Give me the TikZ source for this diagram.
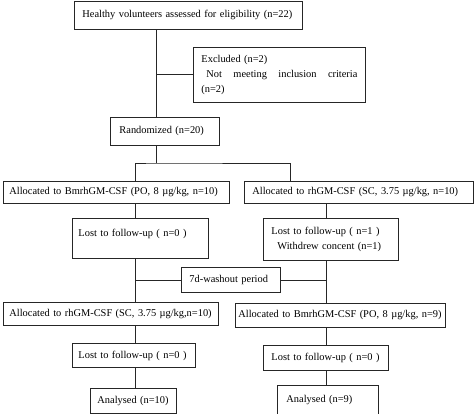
\documentclass[tikz,border=0pt]{standalone}
\usepackage{fontspec}
\setmainfont{Liberation Serif}
\usepackage{tikz}

\begin{document}
\begin{tikzpicture}[x=1pt, y=-1pt,
  stage/.style={draw=black!85, line width=0.9pt, anchor=north west, align=left, inner ysep=0pt, font=\fontsize{10.4}{15}\selectfont},
  link/.style={draw=black!85, line width=0.9pt}]

\useasboundingbox ( 0, 0 ) rectangle ( 474, 414 );

% Enrolment
\node [stage, inner xsep=8pt, text width=212pt, minimum height=28pt] (screen) at ( 74, 1 ) {Healthy volunteers assessed for eligibility (n=22)};
\node [stage, inner xsep=8pt, text width=156pt, minimum height=55pt] (excl) at ( 193, 47 ) {Excluded (n=2)\\\hspace*{5pt}Not\hfill meeting\hfill inclusion\hfill criteria\\(n=2)};
\node [stage, inner xsep=9pt, text width=91pt, minimum height=28pt] (rand) at ( 110, 117 ) {Randomized (n=20)};

% Period one
\node [stage, inner xsep=6pt, text width=214pt, minimum height=22pt] (allocA) at ( 3, 181 ) {Allocated to BmrhGM-CSF (PO, 8 µg/kg, n=10)};
\node [stage, inner xsep=8pt, text width=213pt, minimum height=22pt] (allocB) at ( 244, 181 ) {Allocated to rhGM-CSF (SC, 3.75 µg/kg, n=10)};
\node [stage, inner xsep=6pt, text width=124pt, text height=18.5pt, text depth=21.5pt] (lostA) at ( 72, 218 ) {Lost to follow-up ( n=0 )};
\node [stage, inner xsep=8pt, text width=119pt, minimum height=42pt] (lostB) at ( 263, 218 ) {Lost to follow-up ( n=1 )\\\hspace*{6pt}Withdrew concent (n=1)};

% Washout
\node [stage, inner xsep=8pt, text width=83pt, minimum height=25pt] (wash) at ( 181, 267 ) {7d-washout period};

% Period two
\node [stage, inner xsep=6pt, text width=203pt, minimum height=23pt] (allocA2) at ( 3, 302 ) {\mbox{Allocated to rhGM-CSF (SC, 3.75 µg/kg,n=10)}};
\node [stage, inner xsep=3pt, text width=204pt, minimum height=24pt] (allocB2) at ( 235, 303 ) {\mbox{Allocated to BmrhGM-CSF (PO, 8 µg/kg, n=9)}};
\node [stage, inner xsep=6pt, text width=111pt, minimum height=24pt] (lostA2) at ( 72, 343 ) {Lost to follow-up ( n=0 )};
\node [stage, inner xsep=8pt, text width=109pt, minimum height=25pt] (lostB2) at ( 263, 345 ) {Lost to follow-up ( n=0 )};
\node [stage, inner xsep=7pt, text width=72pt, minimum height=25pt] (anA) at ( 90, 388 ) {Analysed (n=10)};
\node [stage, inner xsep=9pt, text width=83pt, minimum height=30pt] (anB) at ( 277, 385 ) {Analysed (n=9)};

% Guide points
\coordinate (spine) at ( 156, 0 );
\coordinate (fork) at ( 156, 163 );
\coordinate (laneA) at ( 135, 0 );
\coordinate (laneB) at ( 326, 0 );
\coordinate (branchB) at ( 290, 0 );

% Screening trunk
\draw [link] (spine |- screen.south) -- (spine |- rand.north);
\draw [link] (spine |- excl.west) -- (excl.west);

% Fork
\draw [link] (spine |- rand.south) -- (fork);
\draw [link] (laneA |- allocA.north) |- (fork) -| (branchB |- allocB.north);

% Lanes, period one
\draw [link] (laneA |- allocA.south) -- (laneA |- lostA.north);
\draw [link] (laneB |- allocB.south) -- (laneB |- lostB.north);

% Lanes through washout
\draw [link] (laneA |- lostA.south) -- (laneA |- allocA2.north);
\draw [link] (laneB |- lostB.south) -- (laneB |- allocB2.north);
\draw [link] (laneA |- wash.west) -- (wash.west);
\draw [link] (wash.east) -- (laneB |- wash.east);

% Lanes, period two
\draw [link] (laneA |- allocA2.south) -- (laneA |- lostA2.north);
\draw [link] (laneA |- lostA2.south) -- (laneA |- anA.north);
\draw [link] (laneB |- allocB2.south) -- (laneB |- lostB2.north);
\draw [link] (laneB |- lostB2.south) -- (laneB |- anB.north);

\end{tikzpicture}
\end{document}
